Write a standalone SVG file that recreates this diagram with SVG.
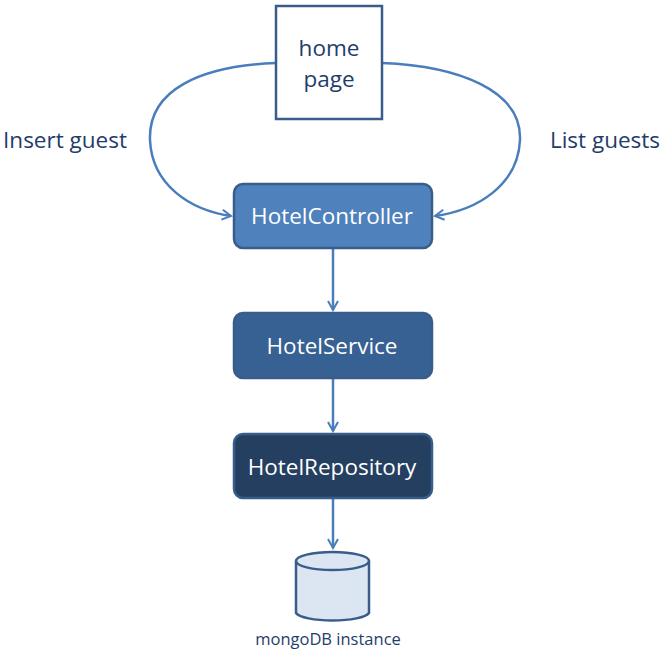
<svg xmlns="http://www.w3.org/2000/svg" width="663" height="655" viewBox="0 0 663 655">
<defs>
<marker id="ah" viewBox="0 0 12 12" refX="10" refY="6" markerWidth="12" markerHeight="12" markerUnits="userSpaceOnUse" orient="auto">
<path d="M1,1 L10,6 L1,11" fill="none" stroke="#4A7EBB" stroke-width="2"/>
</marker>
<style>
.t{font-family:"Open Sans","Liberation Sans",sans-serif;font-size:22.5px;text-anchor:middle}
.c{fill:none;stroke:#4A7EBB;stroke-width:2.5}
.n{stroke:#385D8A;stroke-width:2.5}
</style>
</defs>
<rect width="663" height="655" fill="#fff"/>
<g id="connectors">
<path class="c" d="M276,63 C200,66 148,90 150,140 C152,185 190,210 231,216" marker-end="url(#ah)"/>
<path class="c" d="M382,63 C458,66 522,90 520,140 C518,185 478,210 435,216" marker-end="url(#ah)"/>
<line class="c" x1="333" y1="249" x2="333" y2="310" marker-end="url(#ah)"/>
<line class="c" x1="333" y1="379" x2="333" y2="431" marker-end="url(#ah)"/>
<line class="c" x1="333" y1="499" x2="333" y2="548" marker-end="url(#ah)"/>
</g>
<g id="home"><rect class="n" x="276" y="6" width="106" height="113" fill="#fff"/>
<text class="t" x="329" y="56" fill="#1F3D6B">home</text><text class="t" x="329" y="87" fill="#1F3D6B">page</text></g>
<g id="controller"><rect class="n" x="234" y="184" width="198" height="64" rx="9" fill="#4F81BD"/>
<text class="t" x="332" y="224" fill="#fff">HotelController</text></g>
<g id="service"><rect class="n" x="234" y="313" width="198" height="65" rx="9" fill="#376093"/>
<text class="t" x="332" y="354" fill="#fff">HotelService</text></g>
<g id="repository"><rect class="n" x="234" y="434" width="198" height="64" rx="9" fill="#243F60"/>
<text class="t" x="332" y="475" fill="#fff">HotelRepository</text></g>
<g id="db">
<path class="n" d="M296,561 L296,613 A37,9 0 0 0 369,613 L369,561" fill="#DCE6F2"/>
<ellipse class="n" cx="332.5" cy="561" rx="36.5" ry="9" fill="#DCE6F2"/>
<text x="328" y="645" font-family="Open Sans,Liberation Sans,sans-serif" font-size="16.5" text-anchor="middle" fill="#1F3D6B">mongoDB instance</text>
</g>
<text class="t" x="65" y="148" fill="#1F3D6B">Insert guest</text>
<text class="t" x="605" y="148" fill="#1F3D6B">List guests</text>
</svg>
